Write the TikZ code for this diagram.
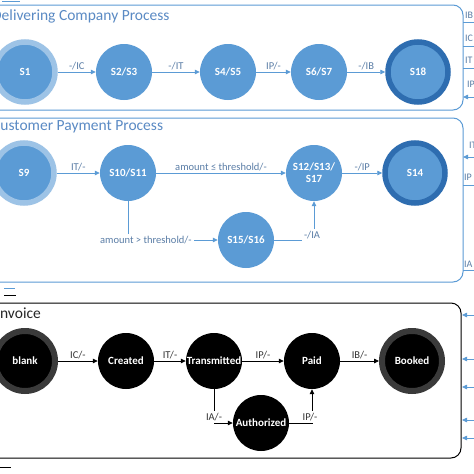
\documentclass[tikz,border=0pt]{standalone}
\usepackage{fontspec}
\setmainfont{Carlito}
\usetikzlibrary{arrows.meta}
\definecolor{fsmblue}{HTML}{5B9BD5}
\definecolor{fsmlight}{HTML}{9DC3E6}
\definecolor{fsmdark}{HTML}{2E6DB0}
\definecolor{fsmtext}{HTML}{5A7DA6}
\definecolor{fsmtitle}{HTML}{5A8AC4}
\definecolor{ringgray}{HTML}{3A3A3A}

\begin{document}
\begin{tikzpicture}[x=1pt, y=-1pt,
    state/.style={circle, fill=fsmblue, minimum size=56pt, inner sep=0pt, text=white,
        font=\bfseries\fontsize{11}{12}\selectfont, align=center},
    initstate/.style={state, draw=fsmlight, line width=5.5pt, minimum size=60pt},
    finstate/.style={state, draw=fsmdark, line width=5.5pt, minimum size=60pt},
    bstate/.style={state, fill=black},
    bring/.style={bstate, draw=ringgray, line width=6pt, minimum size=60pt},
    bline/.style={fsmblue, line width=0.8pt, -{Triangle[length=5pt,width=4.5pt]}},
    kline/.style={black, line width=0.8pt, -{Triangle[length=5pt,width=4.5pt]}},
    lbl/.style={text=fsmtext, font=\fontsize{10.5}{12}\selectfont, above, inner sep=2pt},
    klbl/.style={text=black!80, font=\fontsize{10.5}{12}\selectfont, above, inner sep=2pt},
    cutlbl/.style={text=fsmtext, font=\fontsize{10}{11}\selectfont, anchor=west, inner sep=0pt},
    panel/.style={rounded corners=10pt, line width=1pt},
    title/.style={anchor=west, inner sep=0pt, font=\fontsize{15.5}{18}\selectfont}]
    \clip (0,0) rectangle (474,474);
    \fill[white] (0,0) rectangle (474,474);

    % panels
    \draw[panel, fsmblue] (-20,5) rectangle (463,110);
    \draw[panel, fsmblue] (-20,118) rectangle (463,282);
    \draw[panel, black] (-20,303) rectangle (461,458);
    \node[title, text=fsmtitle] (tdeliv) at (-8,16) {Delivering Company Process};
    \node[title, text=fsmtitle] (tpay) at (-8,127) {Customer Payment Process};
    \node[title, text=black!85] (tinv) at (-4,313) {Invoice};

    % delivering company
    \node[initstate] (s1) at (25,72) {S1};
    \node[state] (s23) at (124,72) {S2/S3};
    \node[state] (s45) at (228,72) {S4/S5};
    \node[state] (s67) at (319,72) {S6/S7};
    \node[finstate] (s18) at (418,72) {S18};
    \draw[bline] (s1) -- node[lbl] {-/IC} (s23);
    \draw[bline] (s23) -- node[lbl] {-/IT} (s45);
    \draw[bline] (s45) -- node[lbl] {IP/-} (s67);
    \draw[bline] (s67) -- node[lbl] {-/IB} (s18);

    % customer payment
    \node[initstate] (s9) at (24,173) {S9};
    \node[state] (s1011) at (128,173) {S10/S11};
    \node[state] (s1217) at (314,173) {S12/S13/\\S17};
    \node[finstate] (s14) at (415,173) {S14};
    \node[state] (s1516) at (246,240) {S15/S16};
    \draw[bline] (s9) -- node[lbl] {IT/-} (s1011);
    \draw[bline] (s1011) -- node[lbl] {amount ≤ threshold/-} (s1217);
    \draw[bline] (s1011) |- node[lbl, pos=0.6, anchor=center, fill=white] {amount > threshold/-} (s1516);
    \draw[bline] (s1516) -| node[lbl, pos=0.5, anchor=center, fill=white, xshift=-2pt, yshift=5pt] {-/IA} (s1217);
    \draw[bline] (s1217) -- node[lbl] {-/IP} (s14);

    % invoice
    \node[bring] (blank) at (25,361) {blank};
    \node[bstate] (created) at (126,361) {Created};
    \node[bstate] (transm) at (214,361) {\makebox[0pt]{Transmitted}};
    \node[bstate] (paid) at (312,361) {Paid};
    \node[bring] (booked) at (412,361) {Booked};
    \node[bstate] (auth) at (261,423) {\makebox[0pt]{Authorized}};
    \draw[kline] (blank) -- node[klbl] {IC/-} (created);
    \draw[kline] (created) -- node[klbl] {IT/-} (transm);
    \draw[kline] (transm) -- node[klbl] {IP/-} (paid);
    \draw[kline] (paid) -- node[klbl] {IB/-} (booked);
    \draw[kline] (transm) |- node[klbl, pos=0.5, anchor=center, fill=white, yshift=6pt] {IA/-} (auth);
    \draw[kline] (auth) -| node[klbl, pos=0.5, anchor=center, fill=white, xshift=-2pt, yshift=6pt] {IP/-} (paid);

    % events at the right edge
    \draw[fsmblue, line width=0.8pt] (463,22) -- (474,22);
    \draw[fsmblue, line width=0.8pt] (463,46) -- (474,46);
    \draw[fsmblue, line width=0.8pt] (463,68) -- (474,68);
    \node[cutlbl] (eib) at (465,15) {IB};
    \node[cutlbl] (eic) at (465,38) {IC};
    \node[cutlbl] (eit) at (465,60) {IT};
    \node[cutlbl] (eip) at (467,84) {IP};
    \draw[bline] (474,97) -- (463,97);
    \node[cutlbl] (eit2) at (469,145) {IT};
    \draw[bline] (474,157) -- (463,157);
    \node[cutlbl] (eip2) at (464,177) {IP};
    \draw[fsmblue, line width=0.8pt] (463,185) -- (474,185);
    \node[cutlbl] (eia) at (464,264) {IA};
    \draw[fsmblue, line width=0.8pt] (463,270) -- (474,270);
    \draw[bline] (474,315) -- (462,315);
    \draw[bline] (474,359) -- (462,359);
    \draw[bline] (474,387) -- (462,387);
    \draw[bline] (474,420) -- (462,420);
    \draw[bline] (474,438) -- (462,438);

    % bits of the outer frame
    \draw[fsmblue, line width=1pt] (2,1.5) -- (20,1.5);
    \draw[fsmblue, line width=1pt] (4,288) -- (15,288);
    \draw[black, line width=1pt] (4,295) -- (16,295);
    \draw[black, line width=1pt] (0,467) -- (11,467);
\end{tikzpicture}
\end{document}
